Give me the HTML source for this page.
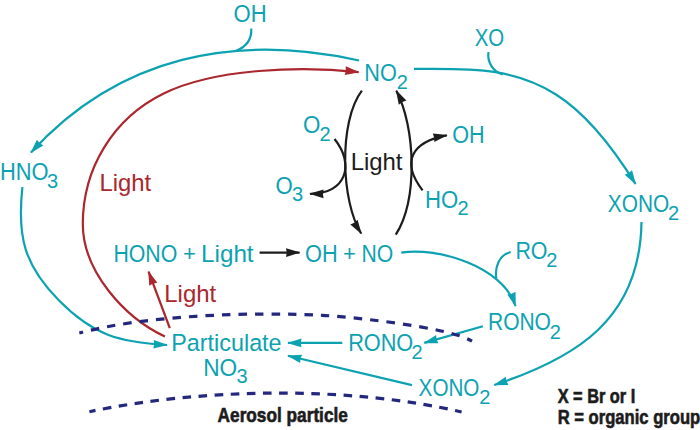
<!DOCTYPE html><html><head><meta charset="utf-8"><style>html,body{margin:0;padding:0;background:#fff;}svg{display:block;}text{font-family:"Liberation Sans",sans-serif;}text.k{stroke:#1c1c1c;stroke-width:0.6px;}</style></head><body>
<svg width="700" height="430" viewBox="0 0 700 430">
<defs><marker id="aT" markerUnits="userSpaceOnUse" viewBox="-16 -6 18 12" markerWidth="18" markerHeight="12" refX="0" refY="0" orient="auto"><path d="M1,0 L-13.5,-4.3 L-12.8,0 L-13.5,4.3 Z" fill="#0ca2b2"/></marker><marker id="aR" markerUnits="userSpaceOnUse" viewBox="-16 -6 18 12" markerWidth="18" markerHeight="12" refX="0" refY="0" orient="auto"><path d="M1,0 L-13.5,-4.3 L-12.8,0 L-13.5,4.3 Z" fill="#ab262d"/></marker><marker id="aK" markerUnits="userSpaceOnUse" viewBox="-16 -6 18 12" markerWidth="18" markerHeight="12" refX="0" refY="0" orient="auto"><path d="M1,0 L-13.5,-4.3 L-12.8,0 L-13.5,4.3 Z" fill="#1c1c1c"/></marker></defs>
<path id="pA" d="M359.0,60.5 C236.1,33.3 119.5,55.4 31.0,152.5" fill="none" stroke="#0ca2b2" stroke-width="2.2" marker-end="url(#aT)"/>
<path id="pOHc" d="M251.3,28.5 C251.8,39.7 246.5,46.7 236.2,50.8" fill="none" stroke="#0ca2b2" stroke-width="2.2"/>
<path id="pB" d="M164.9,336.5 C124.6,317.6 82.8,271.5 82.8,224.0 C82.8,168.1 113.3,118.2 163.7,93.5 C215.2,68.2 301.6,65.9 358.6,72.1" fill="none" stroke="#ab262d" stroke-width="2.2" marker-end="url(#aR)"/>
<path id="pD" d="M414.0,68.8 C466.2,69.4 510.0,65.7 555.6,94.2 C587.2,114.0 615.8,152.2 635.5,184.0" fill="none" stroke="#0ca2b2" stroke-width="2.2" marker-end="url(#aT)"/>
<path id="pXOc" d="M488.5,52.2 C487.0,61.8 493.1,72.3 502.9,74.3" fill="none" stroke="#0ca2b2" stroke-width="2.2"/>
<path id="pBL" d="M361.9,90.7 C338.4,121.3 341.0,201.8 361.2,233.5" fill="none" stroke="#1c1c1c" stroke-width="2.2" marker-end="url(#aK)"/>
<path id="pBR" d="M395.8,234.7 C418.2,199.3 415.4,126.8 396.3,90.7" fill="none" stroke="#1c1c1c" stroke-width="2.2" marker-end="url(#aK)"/>
<path id="pO2O3" d="M334.5,139.0 C354.9,164.1 346.6,194.1 310.1,193.8" fill="none" stroke="#1c1c1c" stroke-width="2.2" marker-end="url(#aK)"/>
<path id="pHO2OH" d="M422.6,190.4 C400.2,161.1 412.4,141.6 446.8,135.3" fill="none" stroke="#1c1c1c" stroke-width="2.2" marker-end="url(#aK)"/>
<path id="pL" d="M259.6,252.6 L299.5,252.6" fill="none" stroke="#1c1c1c" stroke-width="2.2" marker-end="url(#aK)"/>
<path id="pM" d="M401.3,252.6 C437.6,246.9 502.9,266.3 515.5,306.0" fill="none" stroke="#0ca2b2" stroke-width="2.2" marker-end="url(#aT)"/>
<path id="pROc" d="M510.6,252.2 C498.9,254.6 494.6,268.0 496.3,278.3" fill="none" stroke="#0ca2b2" stroke-width="2.2"/>
<path id="pO" d="M169.8,328.2 L148.6,271.6" fill="none" stroke="#ab262d" stroke-width="2.2" marker-end="url(#aR)"/>
<path id="pP" d="M22.4,187.2 C17.1,236.4 23.9,264.8 58.8,300.3 C93.3,335.4 119.0,342.1 167.0,345.0" fill="none" stroke="#0ca2b2" stroke-width="2.2" marker-end="url(#aT)"/>
<path id="pQ" d="M342.3,342.9 L288,342.9" fill="none" stroke="#0ca2b2" stroke-width="2.2" marker-end="url(#aT)"/>
<path id="pR" d="M412,385.1 L288,355.7" fill="none" stroke="#0ca2b2" stroke-width="2.2" marker-end="url(#aT)"/>
<path id="pS" d="M482.9,326.3 L424.3,342.9" fill="none" stroke="#0ca2b2" stroke-width="2.2" marker-end="url(#aT)"/>
<path id="pT" d="M641.5,222.0 C640.1,318.9 576.6,358.0 494.3,385.0" fill="none" stroke="#0ca2b2" stroke-width="2.2" marker-end="url(#aT)"/>
<path id="dU" d="M79.3,333.0 C148.7,314.5 254.7,311.9 322.3,315.3 C343.5,316.4 447.3,326.2 472.0,341.1" fill="none" stroke="#23287e" stroke-width="3.2" stroke-dasharray="8.5 8" stroke-dashoffset="4.5"/>
<path id="dV" d="M89.4,411.7 C201.0,388.0 349.8,385.7 461.6,412.0" fill="none" stroke="#23287e" stroke-width="3.2" stroke-dasharray="8.6 7.5" stroke-dashoffset="2.3"/>
<text id="tOH1" class="n" x="233.53" y="22.3" font-size="24.5" fill="#0ca2b2" textLength="33.07" lengthAdjust="spacingAndGlyphs">OH</text>
<text id="tNO2a" class="n" x="364.29" y="80.8" font-size="24.5" fill="#0ca2b2" textLength="32.52" lengthAdjust="spacingAndGlyphs">NO</text>
<text id="tNO2b" class="n" x="396.65" y="88.6" font-size="20" fill="#0ca2b2">2</text>
<text id="tXO" class="n" x="474.7" y="45.6" font-size="24.5" fill="#0ca2b2" textLength="29.54" lengthAdjust="spacingAndGlyphs">XO</text>
<text id="tHNO3a" class="n" x="-0.11" y="179.7" font-size="24.5" fill="#0ca2b2" textLength="48.57" lengthAdjust="spacingAndGlyphs">HNO</text>
<text id="tHNO3b" class="n" x="47.05" y="187.7" font-size="20" fill="#0ca2b2">3</text>
<text id="tO2a" class="n" x="302.94" y="133.3" font-size="24.5" fill="#0ca2b2" textLength="17.39" lengthAdjust="spacingAndGlyphs">O</text>
<text id="tO2b" class="n" x="319.5" y="140.7" font-size="20" fill="#0ca2b2">2</text>
<text id="tOH2" class="n" x="452.18" y="142.7" font-size="24.5" fill="#0ca2b2" textLength="32.3" lengthAdjust="spacingAndGlyphs">OH</text>
<text id="tO3a" class="n" x="275.52" y="194.2" font-size="24.5" fill="#0ca2b2" textLength="17.28" lengthAdjust="spacingAndGlyphs">O</text>
<text id="tO3b" class="n" x="292.0" y="201.2" font-size="20" fill="#0ca2b2">3</text>
<text id="tHO2a" class="n" x="425.05" y="207.5" font-size="24.5" fill="#0ca2b2" textLength="33.19" lengthAdjust="spacingAndGlyphs">HO</text>
<text id="tHO2b" class="n" x="457.6" y="215.3" font-size="20" fill="#0ca2b2">2</text>
<text id="tXONO2ra" class="n" x="607.86" y="212" font-size="24.5" fill="#0ca2b2" textLength="61.28" lengthAdjust="spacingAndGlyphs">XONO</text>
<text id="tXONO2rb" class="n" x="668.05" y="220.4" font-size="20" fill="#0ca2b2">2</text>
<text id="tHONOa" class="n" x="113.39" y="261.6" font-size="24.5" fill="#0ca2b2" textLength="63.91" lengthAdjust="spacingAndGlyphs">HONO</text>
<text id="tHONOp" class="n" x="182.9" y="261.0" font-size="22" fill="#0ca2b2">+</text>
<text id="tHONOl" class="n" x="201.02" y="261.6" font-size="24.5" fill="#0ca2b2" textLength="52.61" lengthAdjust="spacingAndGlyphs">Light</text>
<text id="tOHNOa" class="n" x="304.98" y="261.8" font-size="24.5" fill="#0ca2b2" textLength="32.63" lengthAdjust="spacingAndGlyphs">OH</text>
<text id="tOHNOp" class="n" x="342.9" y="261.2" font-size="22" fill="#0ca2b2">+</text>
<text id="tOHNOn" class="n" x="361.53" y="261.8" font-size="24.5" fill="#0ca2b2" textLength="31.74" lengthAdjust="spacingAndGlyphs">NO</text>
<text id="tRO2a" class="n" x="515.38" y="258.6" font-size="24.5" fill="#0ca2b2" textLength="32.04" lengthAdjust="spacingAndGlyphs">RO</text>
<text id="tRO2b" class="n" x="546.3" y="267.1" font-size="20" fill="#0ca2b2">2</text>
<text id="tRONO2ra" class="n" x="487.99" y="330" font-size="24.5" fill="#0ca2b2" textLength="62.95" lengthAdjust="spacingAndGlyphs">RONO</text>
<text id="tRONO2rb" class="n" x="549.8" y="338.6" font-size="20" fill="#0ca2b2">2</text>
<text id="tRONO2la" class="n" x="348.15" y="351.4" font-size="24.5" fill="#0ca2b2" textLength="65.08" lengthAdjust="spacingAndGlyphs">RONO</text>
<text id="tRONO2lb" class="n" x="411.45" y="359" font-size="20" fill="#0ca2b2">2</text>
<text id="tPart" class="n" x="171.31" y="351.4" font-size="24.5" fill="#0ca2b2" textLength="110.29" lengthAdjust="spacingAndGlyphs">Particulate</text>
<text id="tNO3a" class="n" x="203.22" y="375.6" font-size="24.5" fill="#0ca2b2" textLength="33.99" lengthAdjust="spacingAndGlyphs">NO</text>
<text id="tNO3b" class="n" x="236.6" y="383" font-size="20" fill="#0ca2b2">3</text>
<text id="tXONO2ba" class="n" x="418.6" y="395.7" font-size="24.5" fill="#0ca2b2" textLength="60.86" lengthAdjust="spacingAndGlyphs">XONO</text>
<text id="tXONO2bb" class="n" x="479.15" y="403.9" font-size="20" fill="#0ca2b2">2</text>
<text id="tLight1" class="n" x="99.45" y="190.7" font-size="24.5" fill="#ab262d" textLength="51.79" lengthAdjust="spacingAndGlyphs">Light</text>
<text id="tLight2" class="n" x="164.25" y="302" font-size="24.5" fill="#ab262d" textLength="51.97" lengthAdjust="spacingAndGlyphs">Light</text>
<text id="tLight3" class="n" x="350.64" y="169.5" font-size="24.5" fill="#1c1c1c" textLength="51.89" lengthAdjust="spacingAndGlyphs">Light</text>
<text id="tAero" class="k" x="217.62" y="422.3" font-size="19.3" fill="#1c1c1c" font-weight="bold" textLength="130.26" lengthAdjust="spacingAndGlyphs">Aerosol particle</text>
<text id="tX" class="k" x="557.63" y="402.7" font-size="19.3" fill="#1c1c1c" font-weight="bold" textLength="77.63" lengthAdjust="spacingAndGlyphs">X = Br or I</text>
<text id="tR" class="k" x="557.7" y="424" font-size="19.3" fill="#1c1c1c" font-weight="bold" textLength="142.5" lengthAdjust="spacingAndGlyphs">R = organic group</text>
</svg></body></html>
